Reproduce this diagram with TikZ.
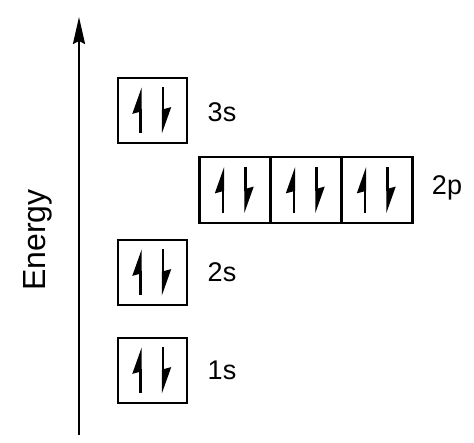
\documentclass[tikz,border=0pt]{standalone}
\usepackage{fontspec}
\setmainfont{Liberation Sans}
\usetikzlibrary{arrows.meta}
\tikzset{
  orbbox/.style={draw, line width=2.1pt, minimum width=69pt, minimum height=65pt, inner sep=0pt},
  spin/.style={line width=2.2pt, -{Stealth[harpoon, length=23pt, width=16pt, inset=2pt]}},
  lvl/.style={font=\fontsize{27}{32}\selectfont}
}

\begin{document}
\begin{tikzpicture}[x=1pt, y=1pt]
\useasboundingbox (0,0) rectangle (474,443);

% energy axis
\coordinate (base) at (79,8);
\coordinate (top) at (79,426);
\draw[line width=2.2pt, -{Stealth[length=27pt, width=12pt, inset=3pt]}] (base) -- (top);
\node[rotate=90, font=\fontsize{32}{38}\selectfont] (energy) at (38,203) {Energy};

% orbitals
\node[orbbox] (s1) at (152.5,72.5) {};
\node[orbbox] (s2) at (152.5,170.5) {};
\node[orbbox] (s3) at (152.5,332.5) {};
\node[orbbox, minimum width=71pt, minimum height=66pt] (p1) at (235,253) {};
\node[orbbox, minimum width=71pt, minimum height=66pt] (p2) at (306,253) {};
\node[orbbox, minimum width=71pt, minimum height=66pt] (p3) at (377,253) {};

% electron pairs
\foreach \o in {s1,s2,s3,p1,p2,p3} {
  \draw[spin] ([shift={(-12,-23)}]\o.center) -- ([shift={(-12,23)}]\o.center);
  \draw[spin] ([shift={(10.5,23)}]\o.center) -- ([shift={(10.5,-23)}]\o.center);
}

% labels
\node[lvl] (l1) at (222,73) {1s};
\node[lvl] (l2) at (222,171) {2s};
\node[lvl] (l3) at (222,331) {3s};
\node[lvl] (l4) at (447,255) {2p};
\end{tikzpicture}
\end{document}
